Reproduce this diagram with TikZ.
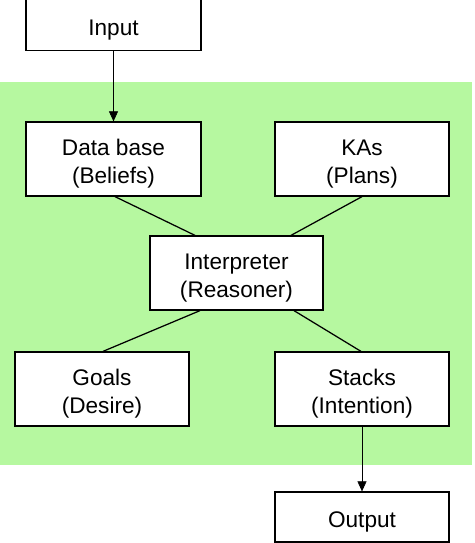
\documentclass[tikz,border=0pt]{standalone}
\usepackage{fontspec}
\setmainfont{Liberation Sans}
\usetikzlibrary{arrows.meta}
\definecolor{bggreen}{RGB}{182,248,160}
\newcommand{\boxup}{\rule{0pt}{25.5pt}}
\begin{document}
\begin{tikzpicture}[x=1pt,y=-1pt,
  box/.style={draw=black,fill=white,line width=1.25pt,inner sep=0pt,
    align=center,font=\fontsize{22.6}{28}\selectfont},
  link/.style={line width=1.25pt},
  flow/.style={line width=0.6pt,-{Triangle[length=10pt,width=9pt]}}]
\useasboundingbox (0,0) rectangle (474,543);
\fill[bggreen] (0,82) rectangle (472,465);
\node[box,minimum width=175pt,minimum height=51pt] (in) at (113.5,25) {\boxup Input};
\node[box,minimum width=175pt,minimum height=74pt] (db) at (113.5,159) {\boxup Data base\\(Beliefs)};
\node[box,minimum width=174pt,minimum height=74pt] (ka) at (362,159) {\boxup KAs\\(Plans)};
\node[box,minimum width=173pt,minimum height=74pt] (ip) at (236.5,273) {\boxup Interpreter\\(Reasoner)};
\node[box,minimum width=174pt,minimum height=74pt] (go) at (102,389) {\boxup Goals\\(Desire)};
\node[box,minimum width=174pt,minimum height=74pt] (st) at (362,389) {\boxup Stacks\\(Intention)};
\node[box,minimum width=174pt,minimum height=50pt] (out) at (362,517) {\boxup Output};
\draw[flow] (in.south) -- (db.north);
\draw[flow] (st.south) -- (out.north);
\draw[link] ([xshift=1.5pt]db.south) -- ([xshift=-41.5pt]ip.north);
\draw[link] (ka.south) -- ([xshift=54.5pt]ip.north);
\draw[link] ([xshift=-36.5pt]ip.south) -- ([xshift=1pt]go.north);
\draw[link] ([xshift=57.5pt]ip.south) -- ([xshift=-1pt]st.north);
\end{tikzpicture}
\end{document}
